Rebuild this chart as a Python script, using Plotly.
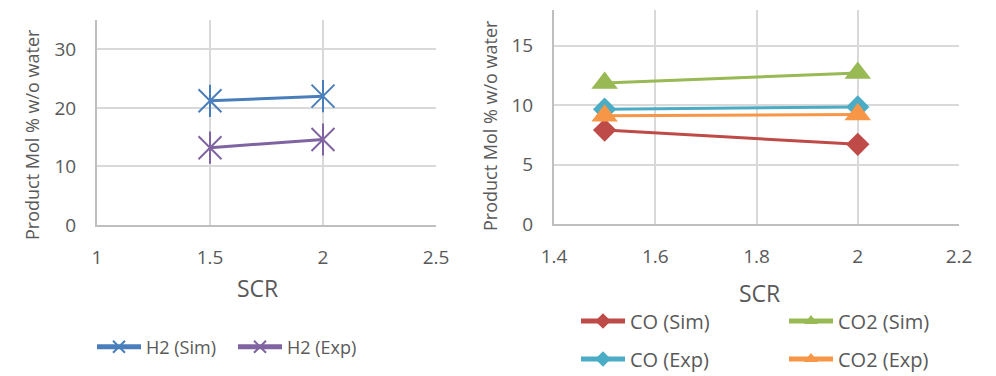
import plotly.graph_objects as go

W, H = 996, 376

scr = [1.5, 2.0]
h2_sim = [21.2, 22.0]
h2_exp = [13.2, 14.6]
co_sim = [7.9, 6.7]
co2_sim = [11.85, 12.7]
co_exp = [9.65, 9.85]
co2_exp = [9.1, 9.2]

left_xticks = [1, 1.5, 2, 2.5]
left_yticks = [0, 10, 20, 30]
right_xticks = [1.4, 1.6, 1.8, 2.0, 2.2]
right_yticks = [0, 5, 10, 15]

FONT = "Open Sans"
TXT = "#595959"
GRID = "#d9d9d9"

def px_x(p):
    return p / W

def px_y(p):
    return 1 - p / H

fig = go.Figure()

# Left chart: H2
for name, ys, col in [("H2 (Sim)", h2_sim, "#4a7ebb"), ("H2 (Exp)", h2_exp, "#8064a2")]:
    fig.add_trace(go.Scatter(x=scr, y=ys, name=name, mode="lines+markers",
                             line=dict(color=col, width=3),
                             marker=dict(symbol="x-thin-open", size=23, color=col,
                                         line=dict(color=col, width=2)),
                             xaxis="x", yaxis="y", legend="legend"))
    fig.add_trace(go.Scatter(x=scr, y=ys, mode="markers", showlegend=False, hoverinfo="skip",
                             marker=dict(symbol="line-ns-open", size=23, color=col,
                                         line=dict(color=col, width=2)),
                             xaxis="x", yaxis="y"))

# Right chart: CO / CO2
right_series = [
    ("CO (Sim)", co_sim, "#be4b48", "diamond", 18, "legend2"),
    ("CO2 (Sim)", co2_sim, "#98b954", "triangle-up", 23, "legend2"),
    ("CO (Exp)", co_exp, "#4bacc6", "diamond", 18, "legend3"),
    ("CO2 (Exp)", co2_exp, "#f79646", "triangle-up", 23, "legend3"),
]
for name, ys, col, sym, sz, lg in right_series:
    fig.add_trace(go.Scatter(x=scr, y=ys, name=name, mode="lines+markers",
                             line=dict(color=col, width=3),
                             marker=dict(symbol=sym, size=sz, color=col),
                             xaxis="x2", yaxis="y2", legend=lg))

axis_common = dict(showgrid=True, gridcolor=GRID, gridwidth=2, showline=True,
                   linecolor="#bfbfbf", linewidth=2, zeroline=False,
                   automargin=False,
                   tickfont=dict(family=FONT, size=19, color=TXT), fixedrange=True)

legend_common = dict(orientation="h", xanchor="left", yanchor="middle",
                     xref="container", yref="container", itemwidth=44,
                     itemsizing="constant", bgcolor="rgba(0,0,0,0)")

ann_common = dict(xref="paper", yref="paper", showarrow=False,
                  xanchor="center", yanchor="middle")

fig.update_layout(
    width=W, height=H,
    margin=dict(l=0, r=0, t=0, b=0, autoexpand=False),
    paper_bgcolor="white", plot_bgcolor="white",
    font=dict(family=FONT, color=TXT),
    xaxis=dict(domain=[px_x(97), px_x(436)], range=[1, 2.5], tickvals=left_xticks,
               anchor="y", ticks="", ticklabelstandoff=14, **axis_common),
    yaxis=dict(domain=[px_y(225), px_y(20)], range=[0, 35], tickvals=left_yticks,
               anchor="x", ticks="outside", ticklen=15, tickcolor="rgba(0,0,0,0)",
               **axis_common),
    xaxis2=dict(domain=[px_x(554), px_x(959)], range=[1.4, 2.2], tickvals=right_xticks,
                anchor="y2", ticks="", ticklabelstandoff=14, **axis_common),
    yaxis2=dict(domain=[px_y(224), px_y(10)], range=[0, 18], tickvals=right_yticks,
                anchor="x2", ticks="outside", ticklen=15, tickcolor="rgba(0,0,0,0)",
                **axis_common),
    legend=dict(x=px_x(92), y=px_y(347), entrywidth=82,
                font=dict(family=FONT, size=18, color=TXT), **legend_common),
    legend2=dict(x=px_x(576), y=px_y(321), entrywidth=149,
                 font=dict(family=FONT, size=20, color=TXT), **legend_common),
    legend3=dict(x=px_x(576), y=px_y(359), entrywidth=149,
                 font=dict(family=FONT, size=20, color=TXT), **legend_common),
    annotations=[
        dict(text="SCR", x=px_x(257), y=px_y(288), font=dict(family=FONT, size=23, color=TXT),
             **ann_common),
        dict(text="SCR", x=px_x(759), y=px_y(293), font=dict(family=FONT, size=23, color=TXT),
             **ann_common),
        dict(text="Product Mol % w/o water", x=px_x(32), y=px_y(135), textangle=-90,
             font=dict(family=FONT, size=18, color=TXT), **ann_common),
        dict(text="Product Mol % w/o water", x=px_x(490), y=px_y(126), textangle=-90,
             font=dict(family=FONT, size=18, color=TXT), **ann_common),
    ],
)

fig.write_html("out.html", config={"displayModeBar": False},
               post_script="document.body.style.margin='0px';")
